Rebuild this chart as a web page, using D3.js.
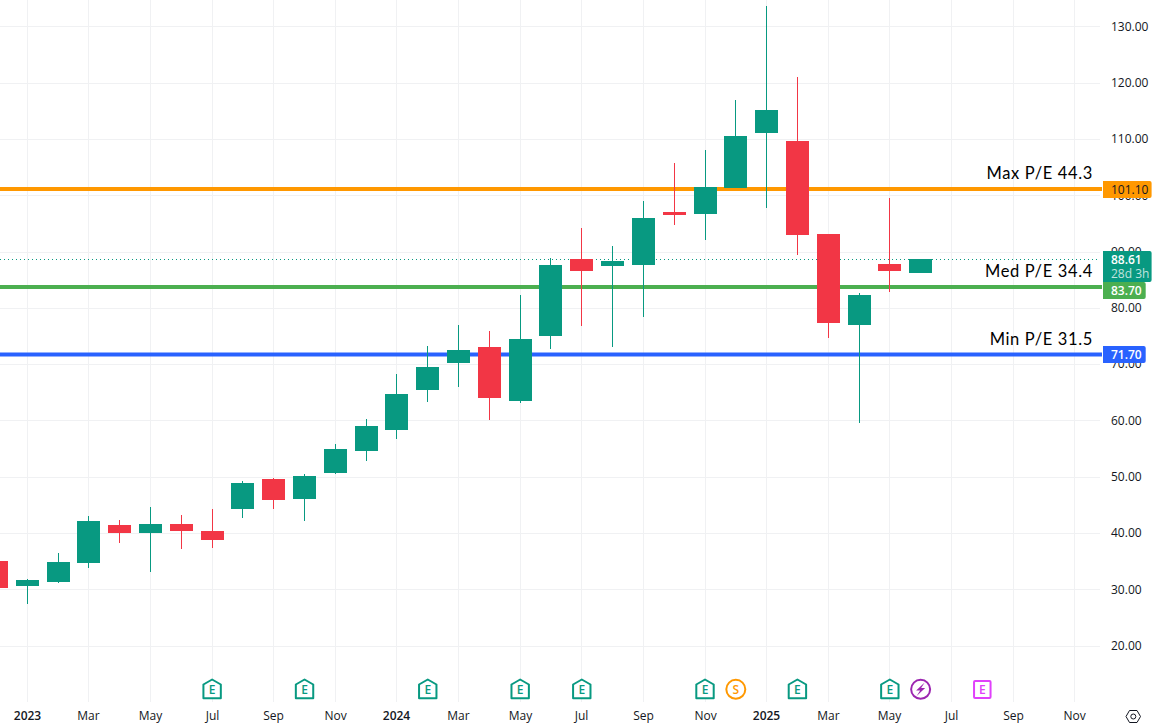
<!DOCTYPE html>
<html>
<head>
    <title>monthly candles</title>
    <meta charset="utf-8">
    <style>
        html, body {
            margin: 0;
            padding: 0;
            background: #fff;
        }

        svg {
            display: block;
        }

        text {
            font-family: "Open Sans", "Noto Sans", sans-serif;
            fill: #131722;
        }
    </style>
    <script src="https://cdnjs.cloudflare.com/ajax/libs/d3/7.8.5/d3.min.js"></script>
</head>
<body>
<script>
    // Dec 2022 .. Jun 2025, one entry per monthly bar
    var opens = [35.0, 30.6, 31.3, 34.7, 41.4, 40.0, 41.6, 40.4, 44.3, 49.6, 46.1, 50.6, 54.6, 58.3, 65.4, 70.2, 73.0, 63.5, 75.0, 88.7, 87.4, 87.6, 97.0, 96.7, 101.3, 111.0, 109.6, 93.1, 76.9, 87.8, 86.2];
    var highs = [35.0, 31.8, 36.5, 43.0, 42.3, 44.6, 43.2, 44.3, 49.2, 49.8, 50.5, 55.8, 60.3, 68.2, 73.2, 76.9, 75.9, 82.3, 88.9, 94.2, 91.0, 99.0, 105.7, 108.0, 116.9, 133.6, 121.0, 93.1, 82.7, 99.5, 88.7];
    var lows = [30.2, 27.4, 31.1, 33.8, 38.2, 33.1, 37.2, 37.4, 42.7, 44.3, 42.1, 50.4, 52.8, 56.7, 63.3, 65.9, 60.1, 63.1, 72.7, 76.8, 73.0, 78.4, 94.7, 92.1, 101.3, 97.7, 89.4, 74.6, 59.6, 82.8, 86.2];
    var closes = [30.2, 31.6, 34.9, 42.1, 40.0, 41.6, 40.4, 38.8, 48.9, 45.9, 50.1, 55.0, 59.0, 64.7, 69.5, 72.5, 64.0, 74.5, 87.6, 86.5, 88.3, 96.0, 96.5, 101.5, 110.5, 115.1, 92.9, 77.3, 82.3, 86.5, 88.61];

    var priceTicks = [20, 30, 40, 50, 60, 70, 80, 90, 100, 110, 120, 130];
    var monthTicks = [1, 3, 5, 7, 9, 11, 13, 15, 17, 19, 21, 23, 25, 27, 29, 31, 33, 35];
    var monthLabels = ["2023", "Mar", "May", "Jul", "Sep", "Nov", "2024", "Mar", "May", "Jul", "Sep", "Nov", "2025", "Mar", "May", "Jul", "Sep", "Nov"];

    var levelNames = ["Max P/E 44.3", "Med P/E 34.4", "Min P/E 31.5"];
    var levelValues = [101.10, 83.70, 71.70];
    var levelColors = ["#ff9800", "#4caf50", "#2962ff"];

    var earningsBars = [7, 10, 14, 17, 19, 23, 26, 29];
    var splitBar = 24;
    var boltBar = 30;
    var nextEarningsBar = 32;

    var lastPrice = 88.61;
    var up = "#089981", down = "#f23645", grid = "#f0f1f3";

    var width = 1160, height = 727, plotRight = 1100, plotBottom = 702;

    var x = d3.scaleLinear().domain([0, 36]).range([-3.515, 1105.47]);
    var y = d3.scaleLinear().domain([20, 130]).range([645.6, 26.3]);

    var svg = d3.select("body").append("svg").attr("width", width).attr("height", height);

    // axes double as the grid
    var xAxis = d3.axisBottom(x)
        .tickValues(monthTicks)
        .tickSize(-plotBottom)
        .tickPadding(9.5)
        .tickFormat(function (d, i) { return monthLabels[i]; });

    var yAxis = d3.axisRight(y)
        .tickValues(priceTicks)
        .tickSize(-plotRight)
        .tickPadding(11)
        .tickFormat(d3.format(".2f"));

    var gx = svg.append("g").attr("transform", "translate(0," + plotBottom + ")").call(xAxis);
    var gy = svg.append("g").attr("transform", "translate(" + plotRight + ",0)").call(yAxis);

    gx.select(".domain").remove();
    gy.select(".domain").remove();
    // snap vertical grid to the same pixel as the wicks
    gx.selectAll(".tick").attr("transform", function (d) {
        return "translate(" + (Math.floor(x(d)) + 0.5) + ",0)";
    });
    svg.selectAll(".tick line").attr("stroke", grid).attr("shape-rendering", "crispEdges");
    gx.selectAll("text")
        .attr("font-size", 12)
        .attr("font-weight", function (d, i) { return /^20/.test(monthLabels[i]) ? 600 : 400; })
        .style("font-family", "'Open Sans'");
    gy.selectAll("text").attr("font-size", 12).style("font-family", "'Open Sans'");

    // last price dotted line
    svg.append("line")
        .attr("x1", 0).attr("x2", plotRight)
        .attr("y1", Math.floor(y(lastPrice)) + 0.5).attr("y2", Math.floor(y(lastPrice)) + 0.5)
        .attr("stroke", up)
        .attr("stroke-dasharray", "1 3");

    // P/E levels
    svg.selectAll(".level")
        .data(levelValues)
        .enter()
        .append("line")
        .attr("class", "level")
        .attr("x1", 0).attr("x2", plotRight + 2)
        .attr("y1", function (d) { return y(d); })
        .attr("y2", function (d) { return y(d); })
        .attr("stroke", function (d, i) { return levelColors[i]; })
        .attr("stroke-width", 4);

    svg.selectAll(".level-name")
        .data(levelNames)
        .enter()
        .append("text")
        .attr("class", "level-name")
        .attr("x", 1093)
        .attr("y", function (d, i) { return y(levelValues[i]) - (i == 1 ? 9.5 : 10); })
        .attr("text-anchor", "end")
        .attr("font-size", 16.5)
        .attr("letter-spacing", 0.65)
        .style("font-family", "Lato")
        .style("fill", "#000")
        .text(function (d) { return d; });

    // candles
    var bars = svg.append("g").attr("shape-rendering", "crispEdges")
        .selectAll("g")
        .data(closes)
        .enter()
        .append("g")
        .attr("fill", function (d, i) { return closes[i] >= opens[i] ? up : down; });

    bars.append("rect")
        .attr("x", function (d, i) { return Math.floor(x(i)); })
        .attr("width", 1)
        .attr("y", function (d, i) { return y(highs[i]); })
        .attr("height", function (d, i) { return y(lows[i]) - y(highs[i]); });

    bars.append("rect")
        .attr("x", function (d, i) { return Math.floor(x(i)) - 11; })
        .attr("width", 23)
        .attr("y", function (d, i) { return y(Math.max(opens[i], closes[i])); })
        .attr("height", function (d, i) { return Math.abs(y(opens[i]) - y(closes[i])); });

    // price tags
    function priceTag(value, top, h, w, fill, color, weight) {
        var path = d3.path();
        path.moveTo(1103, top);
        path.lineTo(1103 + w - 2, top);
        path.arcTo(1103 + w, top, 1103 + w, top + 2, 2);
        path.lineTo(1103 + w, top + h - 2);
        path.arcTo(1103 + w, top + h, 1103 + w - 2, top + h, 2);
        path.lineTo(1103, top + h);
        path.closePath();
        svg.append("path").attr("d", path.toString()).attr("fill", fill);
        svg.append("text")
            .attr("x", 1111).attr("y", top + 13)
            .attr("font-size", 12).attr("font-weight", weight)
            .style("fill", color)
            .text(value);
    }

    priceTag(d3.format(".2f")(levelValues[0]), y(levelValues[0]) - 8, 17, 48.6, levelColors[0], "#131722", 400);
    priceTag(d3.format(".2f")(lastPrice), 251, 31, 48.6, up, "#fff", 600);
    svg.append("text")
        .attr("x", 1111).attr("y", 278)
        .attr("font-size", 12)
        .style("fill", "#fff")
        .style("fill-opacity", 0.75)
        .text("28d 3h");
    priceTag(d3.format(".2f")(levelValues[1]), y(levelValues[1]) - 5, 17, 42.7, levelColors[1], "#fff", 600);
    priceTag(d3.format(".2f")(levelValues[2]), y(levelValues[2]) - 8.5, 17, 42.7, levelColors[2], "#fff", 600);

    // event markers along the bottom
    var markers = svg.append("g");

    function markerLetter(cx, letter, color) {
        markers.append("text")
            .attr("x", cx).attr("y", 694)
            .attr("text-anchor", "middle")
            .attr("font-size", 12)
            .attr("font-weight", 600)
            .style("fill", color)
            .text(letter);
    }

    earningsBars.forEach(function (b) {
        var cx = x(b);
        var house = d3.path();
        house.moveTo(cx, 679.5);
        house.lineTo(cx + 8.7, 684.5);
        house.lineTo(cx + 8.7, 698.3);
        house.lineTo(cx - 8.7, 698.3);
        house.lineTo(cx - 8.7, 684.5);
        house.closePath();
        markers.append("path")
            .attr("d", house.toString())
            .attr("fill", "#fff")
            .attr("stroke", up)
            .attr("stroke-width", 2)
            .attr("stroke-linejoin", "round");
        markerLetter(cx, "E", up);
    });

    markers.append("circle")
        .attr("cx", x(splitBar)).attr("cy", 689.3).attr("r", 9.5)
        .attr("fill", "#fff").attr("stroke", "#ff9800").attr("stroke-width", 2);
    markerLetter(x(splitBar), "S", "#ff9800");

    markers.append("circle")
        .attr("cx", x(boltBar)).attr("cy", 689.3).attr("r", 9.5)
        .attr("fill", "#fff").attr("stroke", "#9c27b0").attr("stroke-width", 2);
    var bolt = d3.path();
    var bx = x(boltBar);
    bolt.moveTo(bx + 4, 682.5);
    bolt.lineTo(bx - 4.5, 690.5);
    bolt.lineTo(bx - 0.5, 690.5);
    bolt.lineTo(bx - 4, 696);
    bolt.lineTo(bx + 4.5, 688);
    bolt.lineTo(bx + 0.5, 688);
    bolt.closePath();
    markers.append("path").attr("d", bolt.toString()).attr("fill", "#9c27b0");

    markers.append("rect")
        .attr("x", x(nextEarningsBar) - 8.2).attr("y", 681)
        .attr("width", 16.5).attr("height", 17).attr("rx", 1)
        .attr("fill", "#fff").attr("stroke", "#e040fb").attr("stroke-width", 2);
    markerLetter(x(nextEarningsBar), "E", "#e040fb");

    // settings hexagon, bottom right corner
    var hex = d3.path();
    hex.moveTo(1126, 716.5);
    hex.lineTo(1129.5, 710.5);
    hex.lineTo(1137, 710.5);
    hex.lineTo(1140.5, 716.5);
    hex.lineTo(1137, 722.5);
    hex.lineTo(1129.5, 722.5);
    hex.closePath();
    svg.append("path").attr("d", hex.toString()).attr("fill", "none").attr("stroke", "#131722");
    svg.append("circle").attr("cx", 1133.3).attr("cy", 716.5).attr("r", 2.5).attr("fill", "none").attr("stroke", "#131722");
</script>
</body>
</html>
